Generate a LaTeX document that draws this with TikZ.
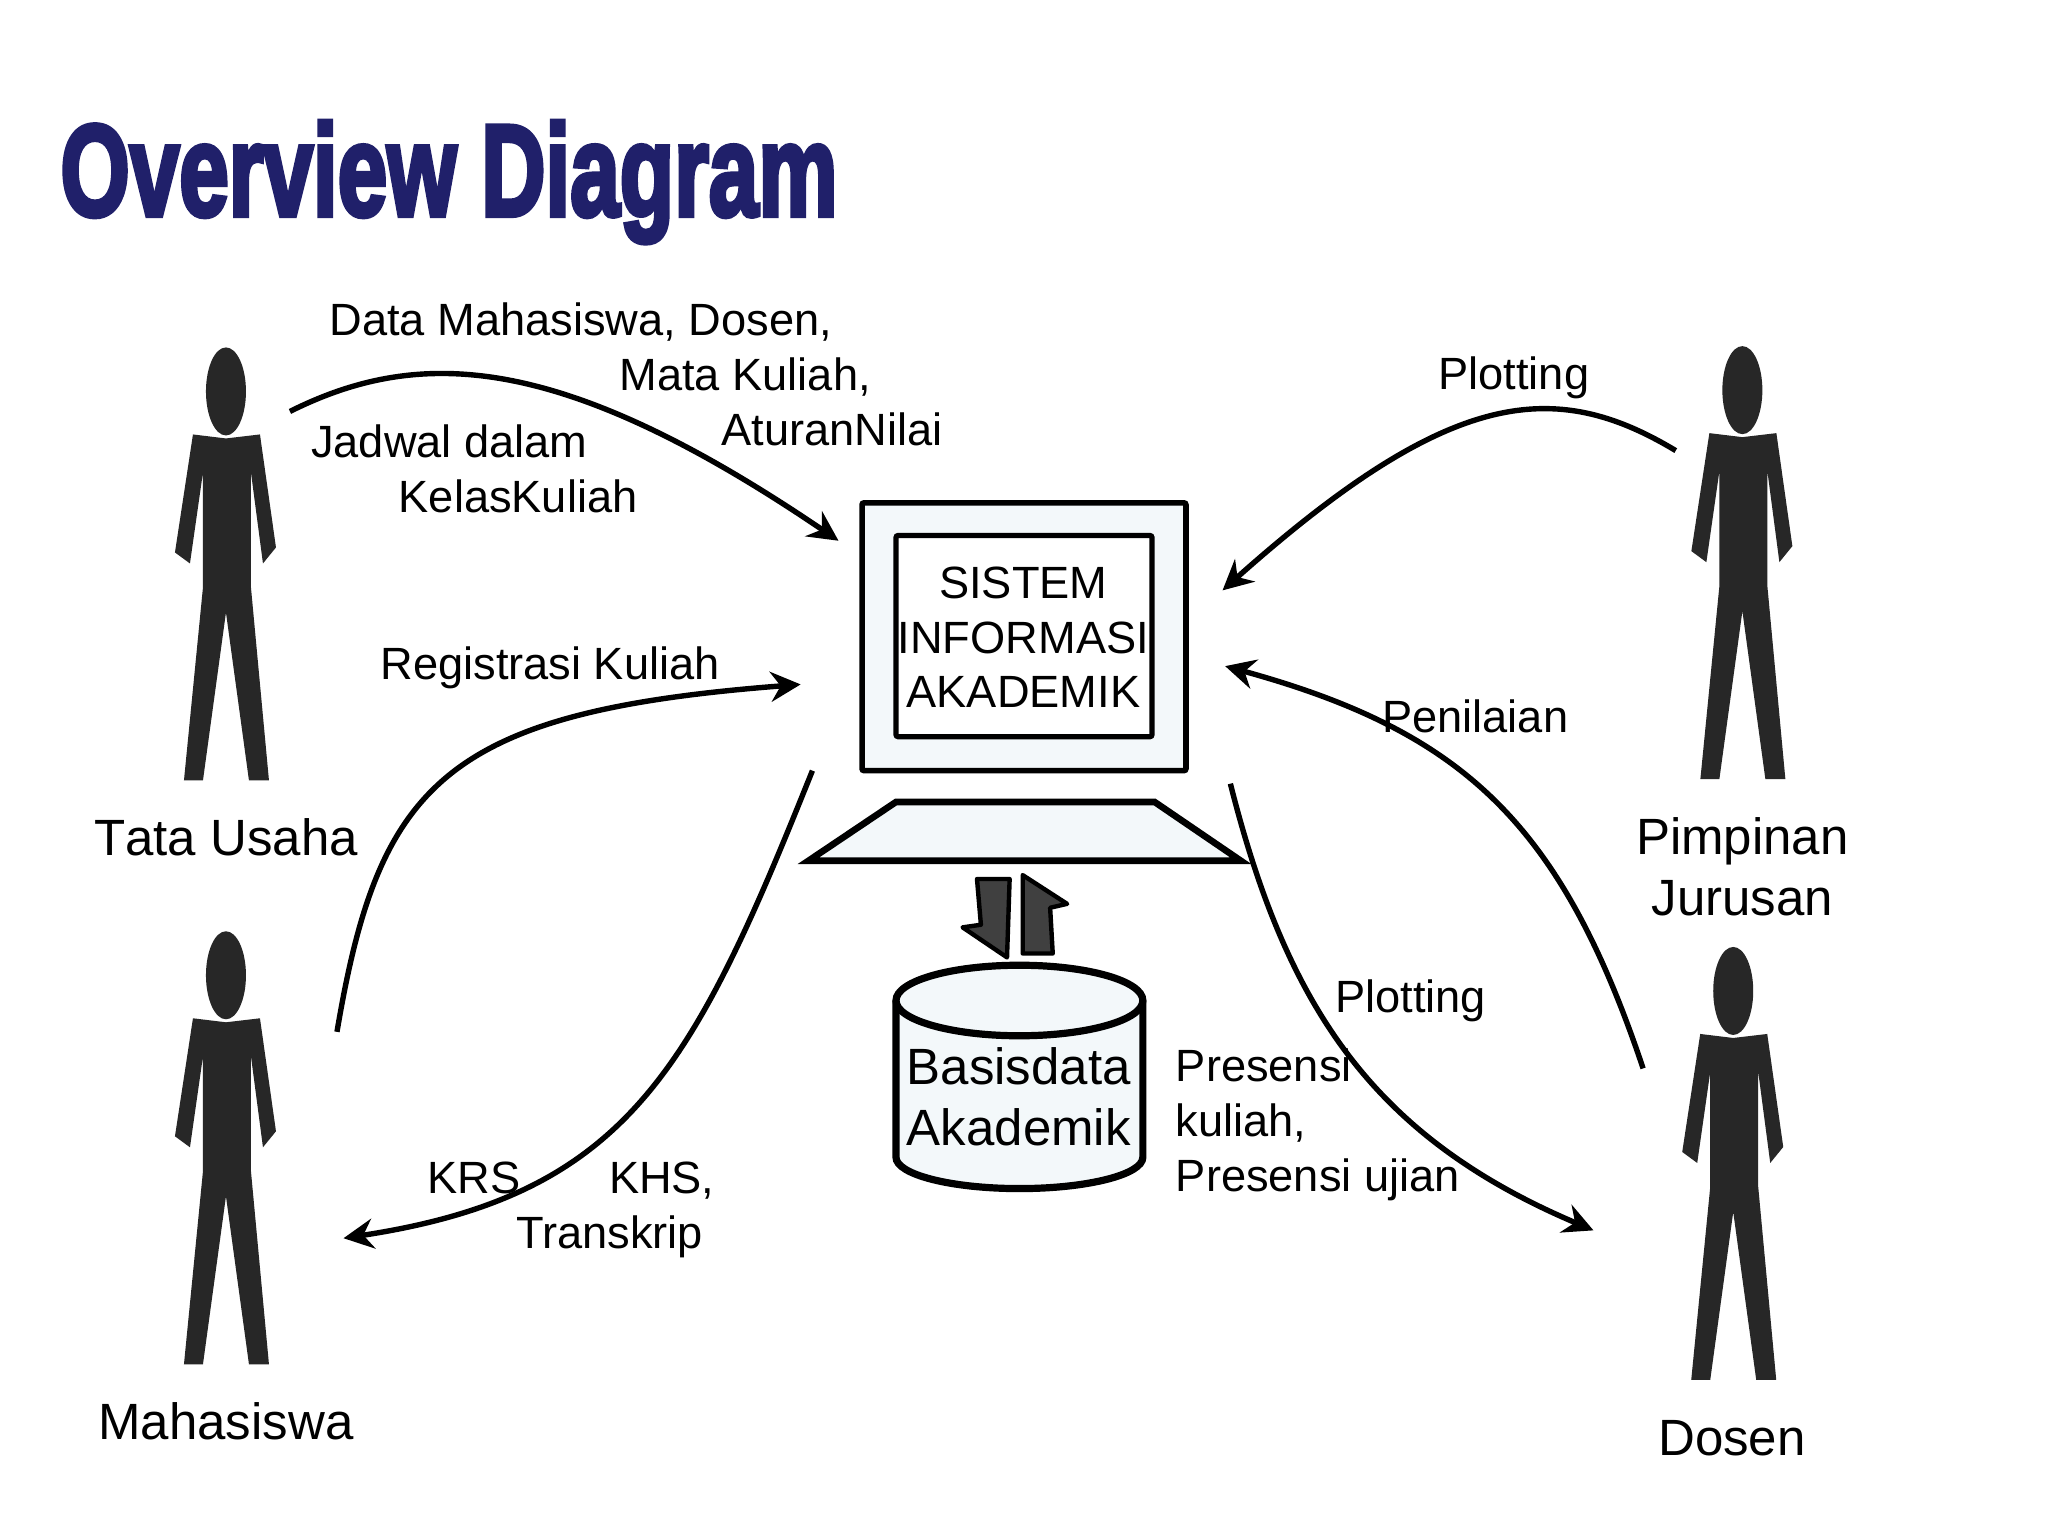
\documentclass[tikz,border=0pt]{standalone}
\usepackage{fontspec}
\setmainfont{Liberation Sans}
\newfontfamily\titlefont[FakeBold=4]{Liberation Sans Bold}
\usetikzlibrary{arrows.meta}
\definecolor{titleblue}{HTML}{20206A}
\definecolor{figure}{HTML}{272727}
\definecolor{pale}{HTML}{F3F8FA}
\tikzset{
  x=0.653pt,y=-0.653pt,
  lbl/.style={anchor=base west,inner sep=0pt,font=\fontsize{22.6}{27}\selectfont},
  actor/.style={anchor=base,inner sep=0pt,font=\fontsize{25.5}{30}\selectfont},
  screen/.style={anchor=base,inner sep=0pt,font=\fontsize{22.6}{27}\selectfont},
  flow/.style={line width=2.7pt,-{Stealth[length=15pt,width=15pt,inset=5pt]}},
  hw/.style={draw=black,line width=3pt,fill=pale,line join=miter},
  person/.pic={
    \fill[figure] (0,44) ellipse [x radius=20,y radius=44];
    \fill[figure] (-33,87)--(0,91)--(34,87)--(50,200)--(37,216)--(25,125)--(25,240)--(43,433)--(23,433)--(0,265)--(-23,433)--(-42,433)--(-23,240)--(-23,125)--(-36,216)--(-51,205)--cycle;
  }
}
\begin{document}
\begin{tikzpicture}
\useasboundingbox (0,0) rectangle (1568,1176);
\fill[white] (0,0) rectangle (1568,1176);
\node[anchor=base west,inner sep=0pt,text=titleblue] (title) at (46,165) {\scalebox{0.685}[1]{\fontsize{65}{70}\titlefont Overview Diagram}};
% people
\pic[scale=0.7657] at (173,266) {person};
\pic[scale=0.7657] at (173,713) {person};
\pic[scale=0.7657] at (1334,265) {person};
\pic[scale=0.7657] at (1327,725) {person};
\node[actor] (tu) at (173,655) {\addfontfeature{Kerning=Off}Tata Usaha};
\node[actor] (mhs) at (173,1102) {Mahasiswa};
\node[actor] (pj1) at (1334,654) {Pimpinan};
\node[actor] (pj2) at (1334,701) {Jurusan};
\node[actor] (dsn) at (1326,1114) {Dosen};
% monitor
\draw[hw,line width=2.8pt,rounded corners=1pt] (660,385) rectangle (908,590);
\draw[draw=black,line width=2.6pt,fill=white,rounded corners=1pt] (686,410) rectangle (882,564);
\draw[hw,line width=3.3pt] (619,659)--(686,614)--(884,614)--(950,659)--cycle;
\node[screen] (s1) at (783.5,458) {SISTEM};
\node[screen] (s2) at (783.5,500) {INFORMASI};
\node[screen] (s3) at (783.5,542) {AKADEMIK};
% block arrows
\draw[draw=black,line width=2.2pt,fill=black!75,line join=round] (748,673)--(773,673)--(771,733)--(737,710)--(751,708)--cycle;
\draw[draw=black,line width=2.2pt,fill=black!75,line join=round] (783,670)--(817,692)--(804,695)--(806,730)--(783,730)--cycle;
% cylinder
\draw[hw,line width=3.6pt] (686,766) -- (686,886) arc[start angle=180,end angle=0,x radius=94.5,y radius=24] -- (875,766);
\draw[hw,line width=3.6pt] (780.5,766) ellipse [x radius=94.5,y radius=27];
\node[actor] (b1) at (780,830) {Basisdata};
\node[actor] (b2) at (780,877) {Akademik};
% labels
\node[lbl] (l1) at (252,257) {Data Mahasiswa, Dosen,};
\node[lbl] (l2) at (474,299) {Mata Kuliah,};
\node[lbl] (l3) at (552,341) {AturanNilai};
\node[lbl] (l4) at (238,350) {Jadwal dalam};
\node[lbl] (l5) at (305,392) {KelasKuliah};
\node[lbl] (l6) at (291,520) {Registrasi Kuliah};
\node[lbl] (l7) at (1101,298) {Plotting};
\node[lbl] (l8) at (1058,561) {Penilaian};
\node[lbl] (l9) at (1022,775) {Plotting};
\node[lbl] (l10) at (900,828) {Presensi};
\node[lbl] (l11) at (900,870) {kuliah,};
\node[lbl] (l12) at (900,912) {Presensi ujian};
\node[lbl] (l13) at (327,914) {KRS};
\node[lbl] (l14) at (466,914) {KHS,};
\node[lbl] (l15) at (395,956) {Transkrip};
% connector ends
\coordinate (a1s) at (222,315); \coordinate (a1e) at (642,414);
\coordinate (a2s) at (258,790); \coordinate (a2e) at (613,524);
\coordinate (a3s) at (622,590); \coordinate (a3e) at (263,948);
\coordinate (a4s) at (1283,345); \coordinate (a4e) at (936,452);
\coordinate (a5s) at (1258,818); \coordinate (a5e) at (938,510);
\coordinate (a6s) at (942,600); \coordinate (a6e) at (1220,942);
\draw[flow] (a1s) .. controls (322,265) and (430,270) .. (a1e);
\draw[flow] (a2s) .. controls (290,600) and (340,545) .. (a2e);
\draw[flow] (a3s) .. controls (530,820) and (480,915) .. (a3e);
\draw[flow] (a4s) .. controls (1190,289) and (1110,297) .. (a4e);
\draw[flow] (a5s) .. controls (1195,630) and (1120,560) .. (a5e);
\draw[flow] (a6s) .. controls (985,770) and (1050,870) .. (a6e);
\end{tikzpicture}
\end{document}
